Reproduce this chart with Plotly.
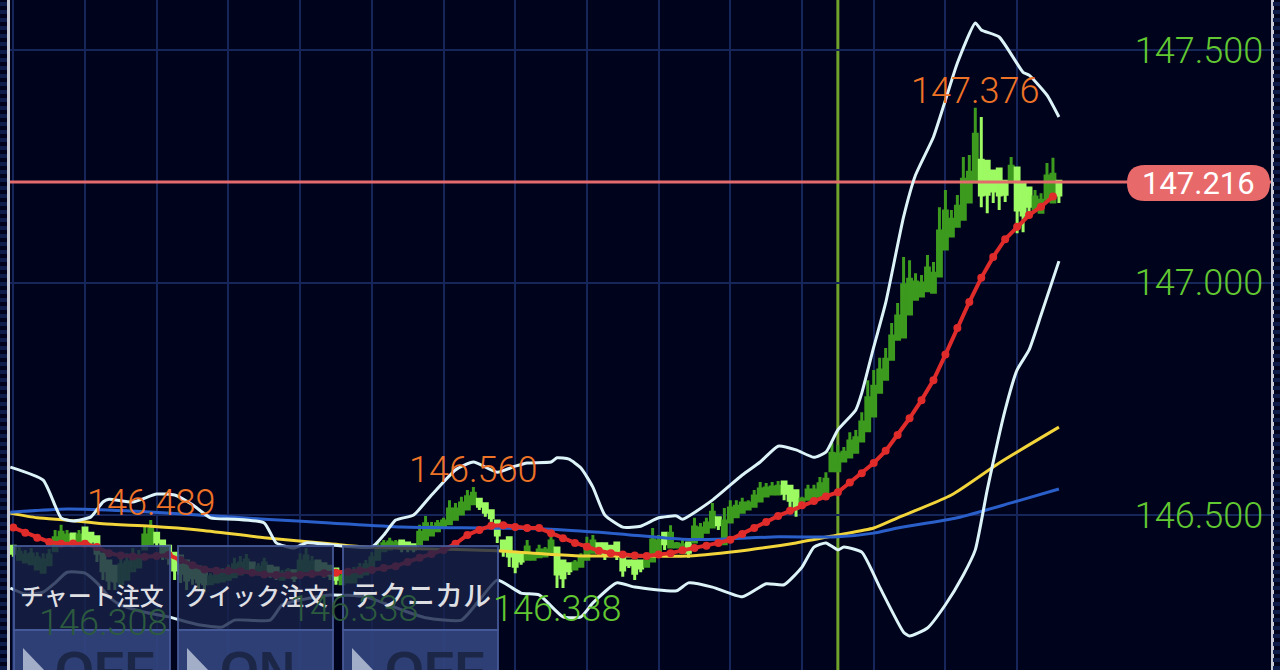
import plotly.graph_objects as go

# bar index on x, price on y
bars = list(range(176))

opens = [
    146.433, 146.405, 146.399, 146.395, 146.384, 146.377, 146.393, 146.423, 146.438, 146.438,
    146.459, 146.440, 146.472, 146.461, 146.453, 146.416, 146.401, 146.390, 146.352, 146.362,
    146.380, 146.388, 146.427, 146.438, 146.461, 146.444, 146.433, 146.418, 146.412, 146.401,
    146.390, 146.388, 146.380, 146.352, 146.356, 146.358, 146.362, 146.367, 146.373, 146.380,
    146.397, 146.373, 146.380, 146.390, 146.386, 146.362, 146.367, 146.380, 146.373, 146.380,
    146.380, 146.401, 146.395, 146.390, 146.384, 146.352, 146.356, 146.356, 146.367, 146.373,
    146.384, 146.405, 146.423, 146.427, 146.431, 146.444, 146.440, 146.436, 146.438, 146.448,
    146.457, 146.466, 146.474, 146.481, 146.491, 146.502, 146.513, 146.524, 146.534, 146.524,
    146.509, 146.487, 146.444, 146.451, 146.416, 146.416, 146.405, 146.405, 146.410, 146.412,
    146.420, 146.429, 146.401, 146.395, 146.384, 146.390, 146.405, 146.420, 146.438, 146.438,
    146.433, 146.440, 146.408, 146.401, 146.401, 146.401, 146.390, 146.401, 146.423, 146.461,
    146.431, 146.431, 146.420, 146.440, 146.442, 146.453, 146.463, 146.474, 146.494, 146.438,
    146.485, 146.496, 146.506, 146.513, 146.519, 146.530, 146.541, 146.545, 146.545, 146.571,
    146.562, 146.552, 146.528, 146.534, 146.534, 146.541, 146.549, 146.595, 146.595, 146.616,
    146.625, 146.635, 146.659, 146.681, 146.713, 146.764, 146.792, 146.835, 146.878, 146.883,
    146.932, 146.964, 146.971, 146.982, 146.979, 147.014, 147.072, 147.100, 147.121, 147.136,
    147.173, 147.216, 147.263, 147.261, 147.240, 147.244, 147.218, 147.216, 147.246, 147.212,
    147.203, 147.158, 147.151, 147.179, 147.173, 147.218,
]
highs = [
    146.436, 146.431, 146.425, 146.429, 146.420, 146.418, 146.427, 146.468, 146.479, 146.468,
    146.461, 146.468, 146.474, 146.463, 146.455, 146.418, 146.403, 146.393, 146.414, 146.418,
    146.429, 146.425, 146.474, 146.489, 146.463, 146.446, 146.436, 146.420, 146.414, 146.403,
    146.393, 146.390, 146.382, 146.375, 146.382, 146.386, 146.393, 146.408, 146.412, 146.416,
    146.399, 146.397, 146.408, 146.393, 146.388, 146.382, 146.386, 146.382, 146.418, 146.429,
    146.412, 146.403, 146.397, 146.393, 146.386, 146.377, 146.382, 146.388, 146.397, 146.403,
    146.420, 146.442, 146.446, 146.451, 146.446, 146.446, 146.442, 146.438, 146.479, 146.498,
    146.485, 146.489, 146.494, 146.532, 146.526, 146.539, 146.554, 146.560, 146.537, 146.526,
    146.511, 146.489, 146.446, 146.453, 146.418, 146.418, 146.446, 146.420, 146.436, 146.431,
    146.457, 146.431, 146.403, 146.397, 146.403, 146.418, 146.453, 146.457, 146.440, 146.440,
    146.436, 146.442, 146.410, 146.403, 146.403, 146.403, 146.408, 146.472, 146.457, 146.463,
    146.478, 146.442, 146.446, 146.442, 146.494, 146.483, 146.494, 146.526, 146.496, 146.515,
    146.532, 146.532, 146.537, 146.532, 146.554, 146.571, 146.569, 146.571, 146.573, 146.573,
    146.565, 146.554, 146.539, 146.565, 146.565, 146.582, 146.592, 146.655, 146.650, 146.646,
    146.678, 146.683, 146.721, 146.790, 146.812, 146.838, 146.859, 146.913, 146.956, 147.055,
    147.048, 147.020, 147.016, 147.059, 147.044, 147.162, 147.199, 147.156, 147.188, 147.270,
    147.274, 147.376, 147.356, 147.263, 147.242, 147.246, 147.220, 147.270, 147.248, 147.214,
    147.205, 147.199, 147.192, 147.257, 147.268, 147.220,
]
lows = [
    146.410, 146.403, 146.397, 146.393, 146.382, 146.375, 146.390, 146.420, 146.436, 146.436,
    146.436, 146.438, 146.436, 146.433, 146.399, 146.360, 146.339, 146.339, 146.350, 146.360,
    146.377, 146.386, 146.425, 146.436, 146.431, 146.403, 146.393, 146.360, 146.354, 146.339,
    146.350, 146.339, 146.334, 146.350, 146.354, 146.356, 146.360, 146.365, 146.371, 146.377,
    146.375, 146.371, 146.377, 146.365, 146.360, 146.360, 146.365, 146.356, 146.371, 146.377,
    146.377, 146.371, 146.365, 146.360, 146.350, 146.350, 146.354, 146.354, 146.365, 146.371,
    146.382, 146.403, 146.420, 146.425, 146.429, 146.420, 146.420, 146.420, 146.436, 146.446,
    146.455, 146.463, 146.472, 146.479, 146.489, 146.500, 146.511, 146.521, 146.511, 146.496,
    146.483, 146.440, 146.410, 146.388, 146.375, 146.393, 146.403, 146.403, 146.408, 146.410,
    146.418, 146.343, 146.343, 146.371, 146.382, 146.388, 146.403, 146.418, 146.410, 146.403,
    146.418, 146.403, 146.367, 146.386, 146.360, 146.377, 146.388, 146.399, 146.420, 146.425,
    146.429, 146.429, 146.418, 146.408, 146.440, 146.451, 146.461, 146.472, 146.468, 146.436,
    146.483, 146.494, 146.504, 146.511, 146.517, 146.528, 146.539, 146.543, 146.543, 146.532,
    146.515, 146.496, 146.526, 146.532, 146.532, 146.539, 146.547, 146.592, 146.592, 146.614,
    146.623, 146.633, 146.657, 146.678, 146.711, 146.762, 146.790, 146.833, 146.876, 146.881,
    146.930, 146.962, 146.969, 146.979, 146.977, 147.012, 147.070, 147.098, 147.119, 147.134,
    147.171, 147.214, 147.162, 147.149, 147.171, 147.156, 147.173, 147.214, 147.106, 147.108,
    147.141, 147.156, 147.149, 147.177, 147.171, 147.171,
]
closes = [
    146.418, 146.420, 146.414, 146.416, 146.408, 146.403, 146.414, 146.451, 146.463, 146.457,
    146.444, 146.457, 146.448, 146.444, 146.418, 146.380, 146.360, 146.358, 146.393, 146.399,
    146.412, 146.412, 146.457, 146.470, 146.442, 146.418, 146.408, 146.382, 146.375, 146.360,
    146.365, 146.356, 146.352, 146.367, 146.371, 146.375, 146.382, 146.393, 146.397, 146.403,
    146.384, 146.388, 146.397, 146.375, 146.371, 146.375, 146.380, 146.365, 146.401, 146.412,
    146.399, 146.382, 146.375, 146.371, 146.362, 146.367, 146.371, 146.375, 146.386, 146.393,
    146.408, 146.429, 146.438, 146.442, 146.440, 146.429, 146.429, 146.427, 146.463, 146.481,
    146.474, 146.481, 146.487, 146.513, 146.513, 146.526, 146.539, 146.547, 146.519, 146.506,
    146.494, 146.457, 146.423, 146.412, 146.390, 146.401, 146.431, 146.414, 146.425, 146.425,
    146.444, 146.373, 146.365, 146.380, 146.397, 146.408, 146.436, 146.444, 146.420, 146.416,
    146.425, 146.416, 146.382, 146.393, 146.375, 146.386, 146.401, 146.446, 146.444, 146.438,
    146.461, 146.438, 146.436, 146.420, 146.474, 146.472, 146.483, 146.506, 146.479, 146.487,
    146.515, 146.519, 146.526, 146.526, 146.541, 146.556, 146.558, 146.560, 146.562, 146.547,
    146.532, 146.515, 146.534, 146.554, 146.554, 146.567, 146.577, 146.633, 146.631, 146.635,
    146.659, 146.666, 146.700, 146.752, 146.777, 146.812, 146.835, 146.885, 146.928, 146.995,
    147.007, 147.001, 146.999, 147.031, 147.020, 147.111, 147.154, 147.136, 147.164, 147.222,
    147.237, 147.319, 147.188, 147.190, 147.197, 147.188, 147.190, 147.250, 147.156, 147.145,
    147.164, 147.184, 147.177, 147.229, 147.233, 147.188,
]

upper_bars = [
    -0.5, 5, 8, 10, 13, 15, 16, 20, 24, 27, 30, 33, 37, 42, 44, 47, 49, 53, 60, 62, 64, 67, 70, 74,
    77, 81, 84, 86, 90, 91, 93, 95, 97, 99, 102, 105, 108, 111, 112, 117, 122, 125, 128, 131, 134,
    136, 138, 141, 142, 144, 146, 149, 151, 154, 156, 158, 161, 162, 165, 169, 170, 173, 175,
]
upper_band = [
    146.603, 146.575, 146.494, 146.487, 146.496, 146.528, 146.534, 146.528, 146.545, 146.543,
    146.522, 146.494, 146.491, 146.483, 146.440, 146.429, 146.440, 146.436, 146.431, 146.457,
    146.489, 146.500, 146.543, 146.597, 146.614, 146.592, 146.605, 146.612, 146.614, 146.623,
    146.620, 146.601, 146.560, 146.500, 146.474, 146.476, 146.494, 146.498, 146.491, 146.532,
    146.586, 146.614, 146.648, 146.640, 146.624, 146.635, 146.683, 146.726, 146.762, 146.861,
    146.956, 147.141, 147.231, 147.313, 147.392, 147.472, 147.558, 147.543, 147.528, 147.452,
    147.446, 147.403, 147.356,
]
lower_bars = [
    -0.5, 2, 5, 7, 9, 12, 14, 16, 18, 22, 26, 31, 35, 37, 43, 45, 48, 53, 59, 65, 69, 75, 78, 81,
    85, 88, 92, 95, 97, 101, 104, 111, 113, 117, 122, 126, 129, 132, 134, 136, 138, 139, 142, 145,
    149, 150, 153, 156, 159, 161, 163, 166, 168, 170, 172, 175,
]
lower_band = [
    146.343, 146.330, 146.334, 146.354, 146.377, 146.375, 146.354, 146.324, 146.306, 146.291,
    146.281, 146.264, 146.259, 146.274, 146.274, 146.307, 146.317, 146.328, 146.324, 146.296,
    146.279, 146.274, 146.317, 146.360, 146.332, 146.328, 146.281, 146.281, 146.311, 146.354,
    146.345, 146.337, 146.354, 146.345, 146.324, 146.352, 146.350, 146.388, 146.431, 146.440,
    146.425, 146.431, 146.420, 146.345, 146.248, 146.240, 146.257, 146.307, 146.371, 146.425,
    146.554, 146.726, 146.812, 146.855, 146.930, 147.046,
]

red_bars = list(range(0, 176, 2))
red_ma = [
    146.473, 146.462, 146.451, 146.442, 146.438, 146.439, 146.438, 146.431, 146.418, 146.413,
    146.411, 146.410, 146.412, 146.414, 146.403, 146.392, 146.383, 146.380, 146.380, 146.379,
    146.376, 146.372, 146.371, 146.371, 146.371, 146.373, 146.375, 146.376, 146.378, 146.380,
    146.382, 146.386, 146.390, 146.399, 146.408, 146.416, 146.425, 146.438, 146.457, 146.468,
    146.477, 146.478, 146.474, 146.472, 146.472, 146.461, 146.450, 146.440, 146.432, 146.423,
    146.418, 146.415, 146.413, 146.412, 146.415, 146.418, 146.424, 146.429, 146.434, 146.440,
    146.447, 146.459, 146.472, 146.485, 146.498, 146.509, 146.521, 146.530, 146.540, 146.549,
    146.570, 146.590, 146.612, 146.638, 146.672, 146.708, 146.747, 146.790, 146.845, 146.902,
    146.958, 147.010, 147.055, 147.093, 147.120, 147.145, 147.163, 147.185,
]
yellow_bars = [-0.5, 4, 9, 15, 23, 31, 42, 53, 59, 70, 81, 89, 95, 103, 113, 123, 131, 138, 144, 148, 157, 165, 175]
yellow_ma = [
    146.504, 146.494, 146.489, 146.481, 146.476, 146.468, 146.451, 146.438, 146.431, 146.427, 146.423, 146.416,
    146.412, 146.412, 146.412, 146.425, 146.440, 146.457, 146.472, 146.494, 146.543, 146.612, 146.689,
]
blue_bars = [-0.5, 9, 19, 31, 42, 53, 65, 79, 89, 100, 112, 118, 128, 138, 144, 148, 158, 167, 175]
blue_ma = [
    146.506, 146.513, 146.509, 146.500, 146.491, 146.483, 146.474, 146.472, 146.470, 146.461,
    146.448, 146.448, 146.453, 146.453, 146.461, 146.472, 146.494, 146.526, 146.556,
]

current_price = 147.216
marker_bar = 138
grid_bars = list(range(0, 169, 12))
price_ticks = [146.5, 147.0, 147.5]

high_label_bars = [23, 77, 161]
high_label_prices = [146.489, 146.560, 147.376]
low_label_bars = [15, 57, 91]
low_label_prices = [146.308, 146.338, 146.338]
low_label_colors = ["#2c5a3e", "#2c5a3e", "#62c832"]

button_titles = ["チャート注文", "クイック注文", "テクニカル"]
button_states = ["OFF", "ON", "OFF"]
button_lefts = [14, 178, 343]
button_rights = [170, 333, 498]
button_title_sizes = [24, 24, 28]
state_centers = [105, 257, 435]

BG = "#00031c"
GRID = "#17265a"
FONT = "Roboto"
W, H = 1280, 670
LEFT, RIGHT = 10, 9


def px(x):
    return (x - LEFT) / (W - LEFT - RIGHT)


def py(y):
    return (H - y) / H


fig = go.Figure()

fig.add_trace(go.Candlestick(
    x=bars, open=opens, high=highs, low=lows, close=closes,
    increasing=dict(line=dict(color="#3c9a1e", width=3), fillcolor="#3c9a1e"),
    decreasing=dict(line=dict(color="#9dfa62", width=3), fillcolor="#9dfa62"),
    whiskerwidth=0, showlegend=False,
))
fig.add_trace(go.Scatter(x=[-1, 211], y=[current_price, current_price], mode="lines",
                         line=dict(color="#e46b6c", width=3), showlegend=False))
fig.add_trace(go.Scatter(x=yellow_bars, y=yellow_ma, mode="lines",
                         line=dict(color="#f2d43b", width=3, shape="spline", smoothing=0.6), showlegend=False))
fig.add_trace(go.Scatter(x=blue_bars, y=blue_ma, mode="lines",
                         line=dict(color="#2a5fc9", width=3, shape="spline", smoothing=0.6), showlegend=False))
fig.add_trace(go.Scatter(x=red_bars, y=red_ma, mode="lines+markers",
                         line=dict(color="#e02b2b", width=4),
                         marker=dict(color="#e02b2b", size=8), showlegend=False))
fig.add_trace(go.Scatter(x=upper_bars, y=upper_band, mode="lines",
                         line=dict(color="#dcf3f8", width=3, shape="spline", smoothing=0.5), showlegend=False))
fig.add_trace(go.Scatter(x=lower_bars, y=lower_band, mode="lines",
                         line=dict(color="#dcf3f8", width=3, shape="spline", smoothing=0.5), showlegend=False))

# crosshair sits under the candles
fig.add_shape(type="line", x0=marker_bar, x1=marker_bar, yref="paper", y0=0, y1=1,
              line=dict(color="#6fa22b", width=3), layer="below")

# dashed strips down both edges
for edge_x, edge_w in [(3.5, 7), (1276.5, 7)]:
    fig.add_shape(type="line", xref="paper", yref="paper", x0=px(edge_x), x1=px(edge_x), y0=0, y1=1,
                  line=dict(color="#0e1c4a", width=edge_w, dash="4px,4px"))

# price tag
tag_l, tag_r, tag_t, tag_b, tag_rad = 1127, 1270, 165, 201, 18
fig.add_shape(
    type="path", xref="paper", yref="paper",
    path=(f"M {px(tag_l + tag_rad)} {py(tag_t)} L {px(tag_r - tag_rad)} {py(tag_t)} "
          f"Q {px(tag_r)} {py(tag_t)} {px(tag_r)} {py(tag_t + tag_rad)} "
          f"Q {px(tag_r)} {py(tag_b)} {px(tag_r - tag_rad)} {py(tag_b)} "
          f"L {px(tag_l + tag_rad)} {py(tag_b)} "
          f"Q {px(tag_l)} {py(tag_b)} {px(tag_l)} {py(tag_t + tag_rad)} "
          f"Q {px(tag_l)} {py(tag_t)} {px(tag_l + tag_rad)} {py(tag_t)} Z"),
    fillcolor="#e8696a", line=dict(width=0),
)
fig.add_annotation(xref="paper", yref="paper", x=px(1198), y=py(183), xanchor="center", yanchor="middle",
                   text=f"{current_price:.3f}", showarrow=False,
                   font=dict(family=FONT, size=31, color="#ffffff"))

# buttons laid over the chart
for title, state, l, r, size, cx in zip(button_titles, button_states, button_lefts, button_rights,
                                        button_title_sizes, state_centers):
    fig.add_shape(type="rect", xref="paper", yref="paper", x0=px(l), x1=px(r), y0=py(630), y1=py(546),
                  fillcolor="rgba(24,34,72,0.8)", line=dict(color="rgba(72,92,155,0.85)", width=2))
    fig.add_shape(type="rect", xref="paper", yref="paper", x0=px(l), x1=px(r), y0=py(672), y1=py(630),
                  fillcolor="rgba(50,68,125,0.93)", line=dict(color="rgba(72,92,155,0.85)", width=2))
    fig.add_shape(type="path", xref="paper", yref="paper",
                  path=f"M {px(l + 9)} {py(648)} L {px(l + 9)} {py(672)} L {px(l + 32)} {py(672)} Z",
                  fillcolor="#a2adc8", line=dict(width=0))
    fig.add_annotation(xref="paper", yref="paper", x=px((l + r) / 2), y=py(594), xanchor="center", yanchor="middle",
                       text=title, showarrow=False,
                       font=dict(family="Noto Sans CJK JP", size=size, weight=500, color="#dedfe3"))
    fig.add_annotation(xref="paper", yref="paper", x=px(cx), y=py(640), xanchor="center", yanchor="top",
                       text=state, showarrow=False,
                       font=dict(family="Liberation Sans", size=50, weight=700, color="#1c2747"))

for b, p in zip(high_label_bars, high_label_prices):
    fig.add_annotation(x=b, y=p, text=f"{p:.3f}", yanchor="bottom", yshift=-6, showarrow=False,
                       font=dict(family=FONT, size=36, weight=300, color="#ee7326"))
for b, p, c in zip(low_label_bars, low_label_prices, low_label_colors):
    fig.add_annotation(x=b, y=p, text=f"{p:.3f}", yanchor="top", yshift=4, showarrow=False,
                       font=dict(family=FONT, size=36, weight=300, color=c))

fig.update_xaxes(range=[-0.552, 210.49], tickvals=grid_bars, showgrid=True, gridcolor=GRID, gridwidth=2,
                 showticklabels=False, zeroline=False, rangeslider_visible=False)
fig.update_yaxes(range=[146.1667, 147.6075], side="right", ticklabelposition="inside", ticklabelstandoff=12,
                 tickvals=price_ticks, tickformat=".3f", ticks="",
                 tickfont=dict(family=FONT, size=36, weight=300, color="#62c832"),
                 showgrid=True, gridcolor=GRID, gridwidth=2, zeroline=False,
                 showline=True, mirror=True, linecolor="#c5c9d6", linewidth=3)
fig.update_layout(width=W, height=H, margin=dict(l=LEFT, r=RIGHT, t=0, b=0), boxgap=0.08,
                  paper_bgcolor=BG, plot_bgcolor=BG, showlegend=False, hovermode=False)

fig.write_html("out.html", config=dict(displayModeBar=False),
               post_script="document.body.style.margin='0';document.body.style.overflow='hidden';")
